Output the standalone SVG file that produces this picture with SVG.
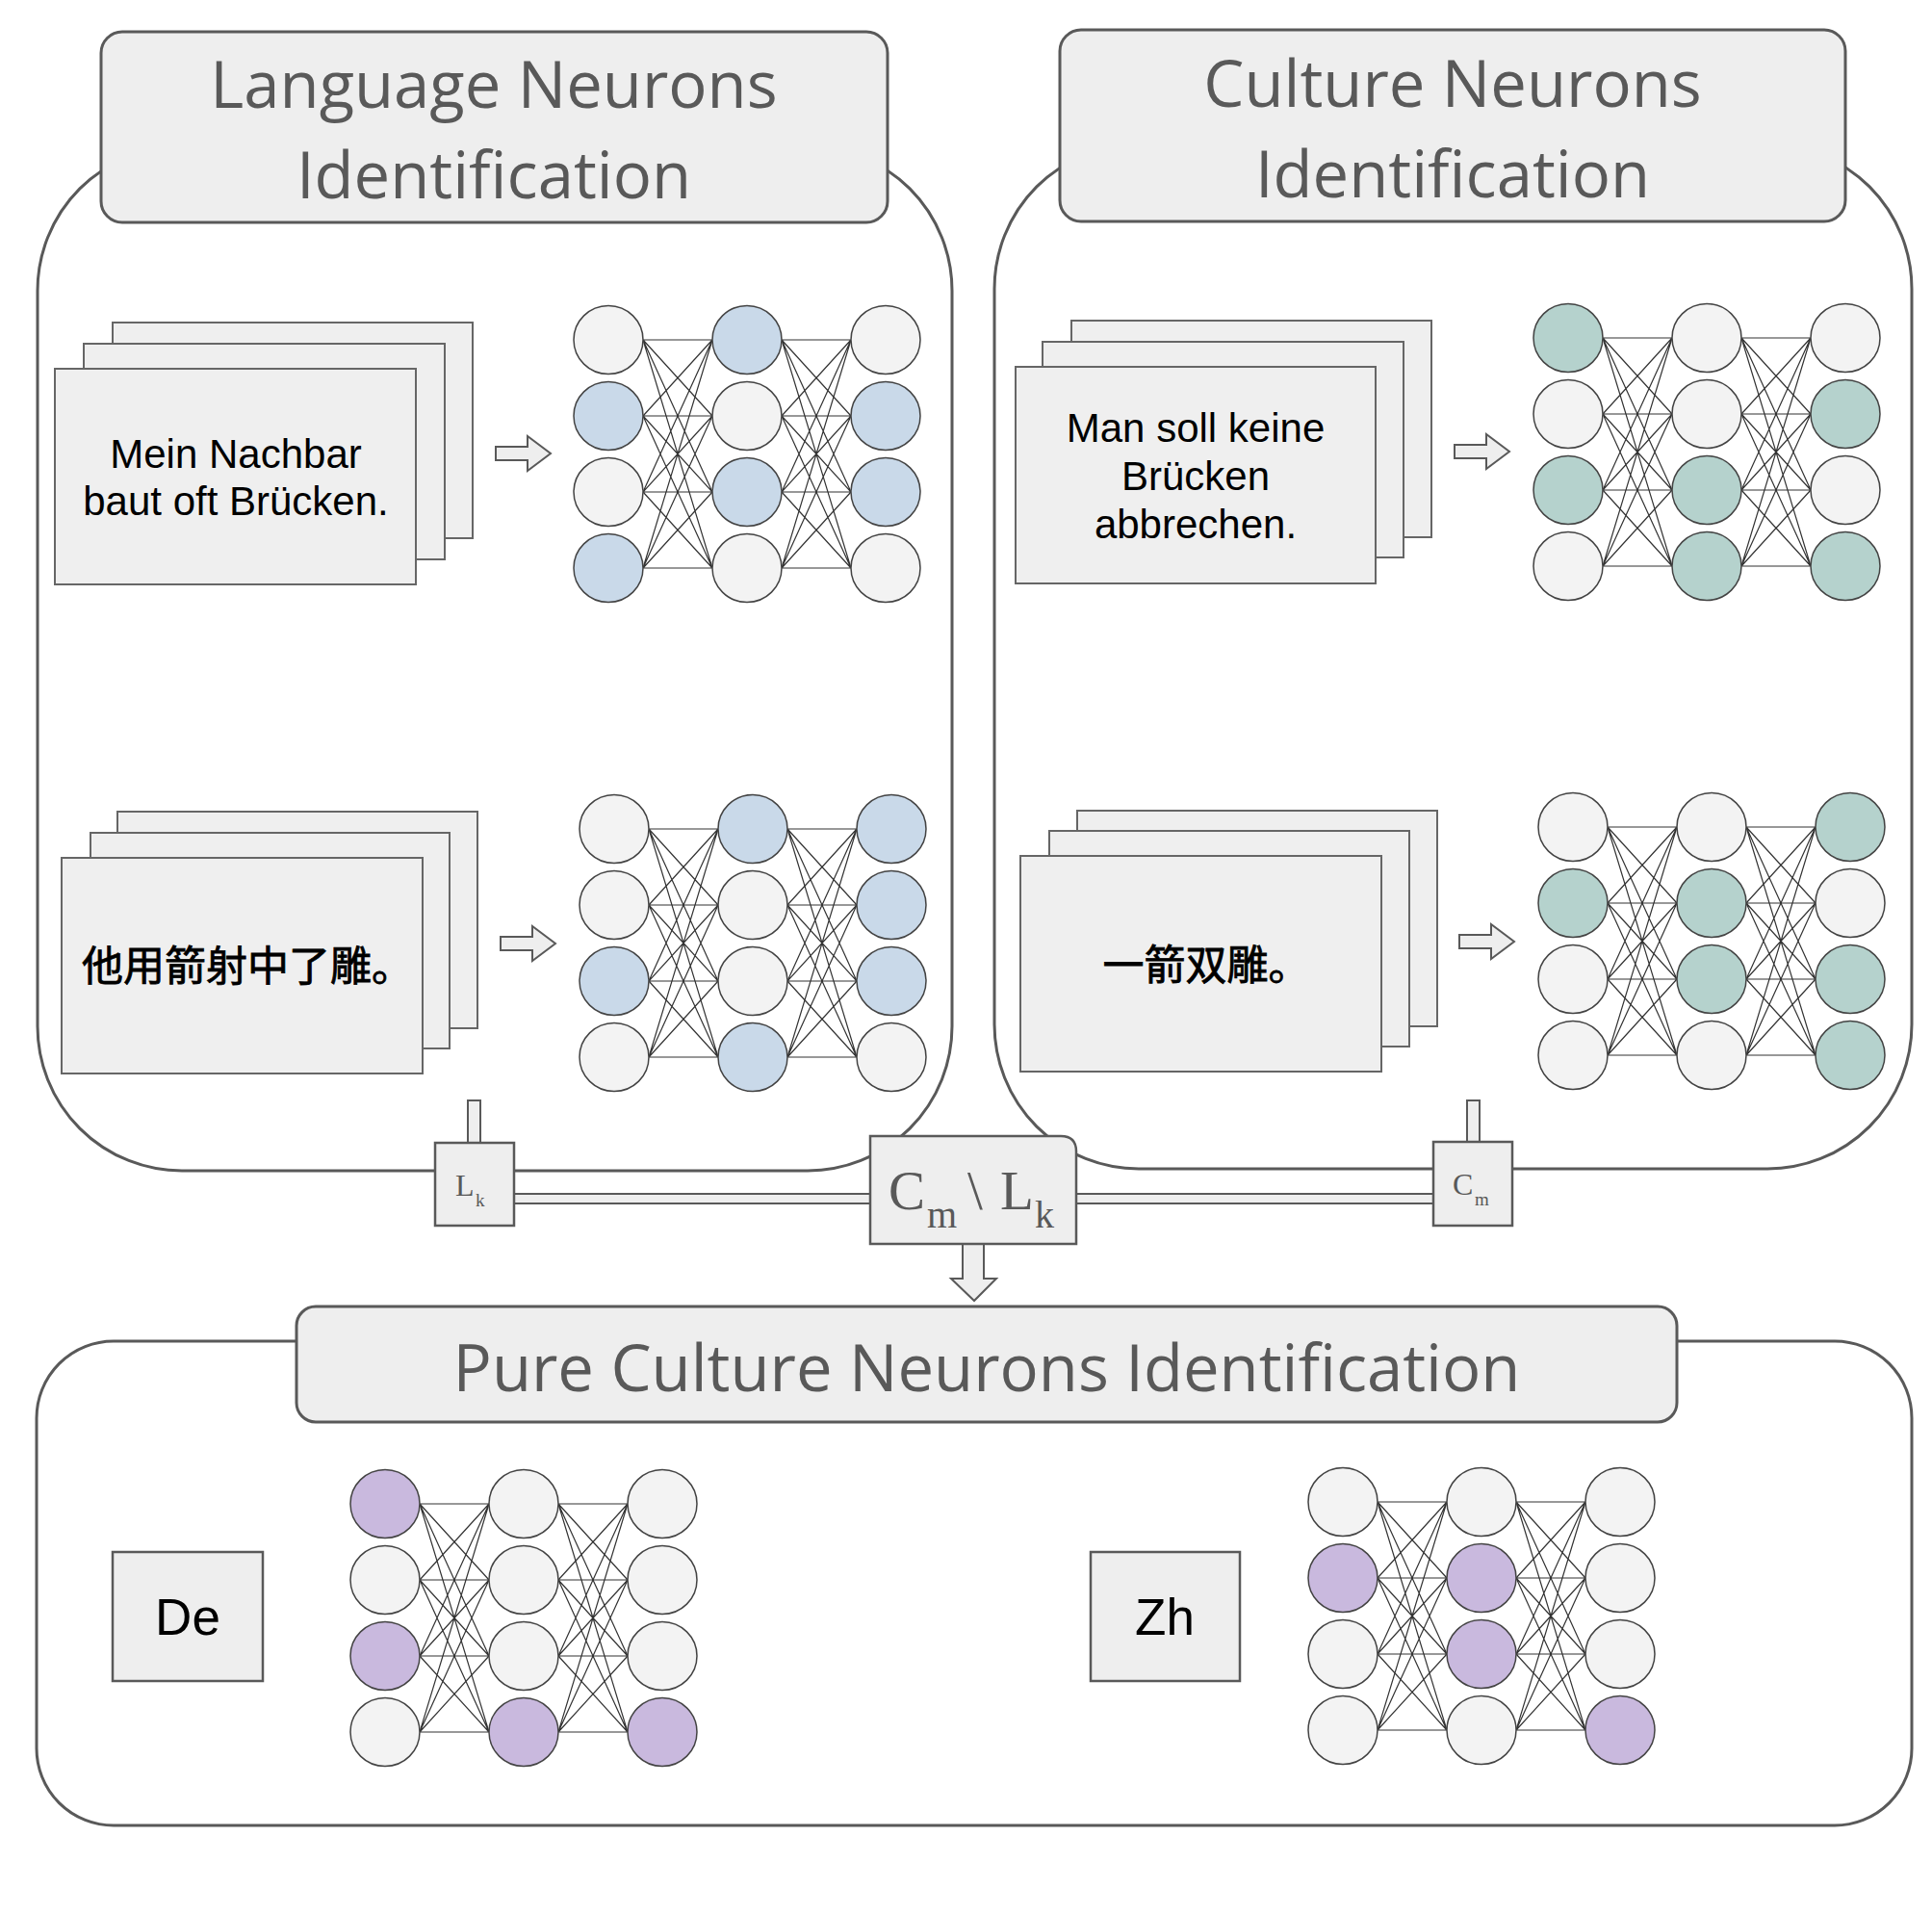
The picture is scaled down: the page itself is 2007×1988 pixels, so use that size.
<svg xmlns="http://www.w3.org/2000/svg" xmlns:xlink="http://www.w3.org/1999/xlink" width="2007" height="1988" viewBox="0 0 2007 1988">
<style>
.panel{fill:#ffffff;stroke:#595959;stroke-width:3}
.title{fill:#eeeeee;stroke:#595959;stroke-width:3}
.ttl{font-family:"Open Sans","Liberation Sans",sans-serif;font-size:67px;fill:#595959;text-anchor:middle}
.sheet{fill:#efefef;stroke:#666666;stroke-width:2}
.st{font-family:"Liberation Sans",Arial,sans-serif;font-size:42px;fill:#000000;text-anchor:middle}
.cjk{font-family:"Liberation Sans","Noto Sans CJK SC",sans-serif;font-size:43px;fill:#000000;stroke:#000000;stroke-width:0.8;text-anchor:middle}
.lang{font-family:"Liberation Sans",Arial,sans-serif;font-size:53px;fill:#000000;text-anchor:middle}
.box{fill:#eeeeee;stroke:#595959;stroke-width:2.5}
.serif{font-family:"Liberation Serif","Times New Roman",serif;fill:#595959}
.harrow{fill:#eeeeee;stroke:#595959;stroke-width:2}
.nl{fill:none;stroke:#333333;stroke-width:1.2}
.n{fill:#f3f3f3;stroke:#434343;stroke-width:1.5}
.b{fill:#c9d9e9;stroke:#434343;stroke-width:1.5}
.t{fill:#b5d2cd;stroke:#434343;stroke-width:1.5}
.p{fill:#c9b9de;stroke:#434343;stroke-width:1.5}
</style>
<defs>
<path id="netlines" class="nl" d="M36 0L108 0M36 0L108 79M36 0L108 158M36 0L108 237M36 79L108 0M36 79L108 79M36 79L108 158M36 79L108 237M36 158L108 0M36 158L108 79M36 158L108 158M36 158L108 237M36 237L108 0M36 237L108 79M36 237L108 158M36 237L108 237M180 0L252 0M180 0L252 79M180 0L252 158M180 0L252 237M180 79L252 0M180 79L252 79M180 79L252 158M180 79L252 237M180 158L252 0M180 158L252 79M180 158L252 158M180 158L252 237M180 237L252 0M180 237L252 79M180 237L252 158M180 237L252 237"/>
<path id="rarrow" class="harrow" d="M-57 -7H-24V-18L0 0L-24 18V7H-57Z"/>
</defs>

<!-- panels -->
<g id="panel-language">
<rect class="panel" x="39" y="152" width="950" height="1064" rx="150" ry="150"/>
<rect class="title" x="105" y="33" width="817" height="198" rx="22" ry="22"/>
<text class="ttl" x="513" y="112">Language Neurons</text>
<text class="ttl" x="513" y="206">Identification</text>
</g>
<g id="panel-culture">
<rect class="panel" x="1033" y="150" width="953" height="1064" rx="150" ry="150"/>
<rect class="title" x="1101" y="31" width="816" height="199" rx="22" ry="22"/>
<text class="ttl" x="1509" y="111">Culture Neurons</text>
<text class="ttl" x="1509" y="205">Identification</text>
</g>
<g id="panel-pure">
<rect class="panel" x="38" y="1393" width="1948" height="503" rx="80" ry="80"/>
<rect class="title" x="308" y="1357" width="1434" height="120" rx="20" ry="20"/>
<text class="ttl" x="1025" y="1445" font-size="67.5">Pure Culture Neurons Identification</text>
</g>

<!-- text stacks -->
<g id="stack-de-lang">
<rect class="sheet" x="117" y="335" width="374" height="224"/>
<rect class="sheet" x="87" y="357" width="375" height="224"/>
<rect class="sheet" x="57" y="383" width="375" height="224"/>
<text class="st" x="245" y="486">Mein Nachbar</text>
<text class="st" x="245" y="535">baut oft Brücken.</text>
</g>
<g id="stack-zh-lang">
<rect class="sheet" x="122" y="843" width="374" height="225"/>
<rect class="sheet" x="94" y="865" width="373" height="224"/>
<rect class="sheet" x="64" y="891" width="375" height="224"/>
<text class="cjk" x="257" y="1019">他用箭射中了雕。</text>
</g>
<g id="stack-de-cult">
<rect class="sheet" x="1113" y="333" width="374" height="225"/>
<rect class="sheet" x="1083" y="355" width="375" height="224"/>
<rect class="sheet" x="1055" y="381" width="374" height="225"/>
<text class="st" x="1242" y="459">Man soll keine</text>
<text class="st" x="1242" y="509">Brücken</text>
<text class="st" x="1242" y="559">abbrechen.</text>
</g>
<g id="stack-zh-cult">
<rect class="sheet" x="1119" y="842" width="374" height="224"/>
<rect class="sheet" x="1090" y="863" width="374" height="224"/>
<rect class="sheet" x="1060" y="889" width="375" height="224"/>
<text class="cjk" x="1253" y="1018">一箭双雕。</text>
</g>

<!-- networks -->
<g id="net-lang-de" transform="translate(632,353)">
<use href="#netlines"/>
<ellipse class="n" cx="0" cy="0" rx="36" ry="35.5"/><ellipse class="b" cx="144" cy="0" rx="36" ry="35.5"/><ellipse class="n" cx="288" cy="0" rx="36" ry="35.5"/>
<ellipse class="b" cx="0" cy="79" rx="36" ry="35.5"/><ellipse class="n" cx="144" cy="79" rx="36" ry="35.5"/><ellipse class="b" cx="288" cy="79" rx="36" ry="35.5"/>
<ellipse class="n" cx="0" cy="158" rx="36" ry="35.5"/><ellipse class="b" cx="144" cy="158" rx="36" ry="35.5"/><ellipse class="b" cx="288" cy="158" rx="36" ry="35.5"/>
<ellipse class="b" cx="0" cy="237" rx="36" ry="35.5"/><ellipse class="n" cx="144" cy="237" rx="36" ry="35.5"/><ellipse class="n" cx="288" cy="237" rx="36" ry="35.5"/>
</g>
<g id="net-lang-zh" transform="translate(638,861)">
<use href="#netlines"/>
<ellipse class="n" cx="0" cy="0" rx="36" ry="35.5"/><ellipse class="b" cx="144" cy="0" rx="36" ry="35.5"/><ellipse class="b" cx="288" cy="0" rx="36" ry="35.5"/>
<ellipse class="n" cx="0" cy="79" rx="36" ry="35.5"/><ellipse class="n" cx="144" cy="79" rx="36" ry="35.5"/><ellipse class="b" cx="288" cy="79" rx="36" ry="35.5"/>
<ellipse class="b" cx="0" cy="158" rx="36" ry="35.5"/><ellipse class="n" cx="144" cy="158" rx="36" ry="35.5"/><ellipse class="b" cx="288" cy="158" rx="36" ry="35.5"/>
<ellipse class="n" cx="0" cy="237" rx="36" ry="35.5"/><ellipse class="b" cx="144" cy="237" rx="36" ry="35.5"/><ellipse class="n" cx="288" cy="237" rx="36" ry="35.5"/>
</g>
<g id="net-cult-de" transform="translate(1629,351)">
<use href="#netlines"/>
<ellipse class="t" cx="0" cy="0" rx="36" ry="35.5"/><ellipse class="n" cx="144" cy="0" rx="36" ry="35.5"/><ellipse class="n" cx="288" cy="0" rx="36" ry="35.5"/>
<ellipse class="n" cx="0" cy="79" rx="36" ry="35.5"/><ellipse class="n" cx="144" cy="79" rx="36" ry="35.5"/><ellipse class="t" cx="288" cy="79" rx="36" ry="35.5"/>
<ellipse class="t" cx="0" cy="158" rx="36" ry="35.5"/><ellipse class="t" cx="144" cy="158" rx="36" ry="35.5"/><ellipse class="n" cx="288" cy="158" rx="36" ry="35.5"/>
<ellipse class="n" cx="0" cy="237" rx="36" ry="35.5"/><ellipse class="t" cx="144" cy="237" rx="36" ry="35.5"/><ellipse class="t" cx="288" cy="237" rx="36" ry="35.5"/>
</g>
<g id="net-cult-zh" transform="translate(1634,859)">
<use href="#netlines"/>
<ellipse class="n" cx="0" cy="0" rx="36" ry="35.5"/><ellipse class="n" cx="144" cy="0" rx="36" ry="35.5"/><ellipse class="t" cx="288" cy="0" rx="36" ry="35.5"/>
<ellipse class="t" cx="0" cy="79" rx="36" ry="35.5"/><ellipse class="t" cx="144" cy="79" rx="36" ry="35.5"/><ellipse class="n" cx="288" cy="79" rx="36" ry="35.5"/>
<ellipse class="n" cx="0" cy="158" rx="36" ry="35.5"/><ellipse class="t" cx="144" cy="158" rx="36" ry="35.5"/><ellipse class="t" cx="288" cy="158" rx="36" ry="35.5"/>
<ellipse class="n" cx="0" cy="237" rx="36" ry="35.5"/><ellipse class="n" cx="144" cy="237" rx="36" ry="35.5"/><ellipse class="t" cx="288" cy="237" rx="36" ry="35.5"/>
</g>
<g id="net-pure-de" transform="translate(400,1562)">
<use href="#netlines"/>
<ellipse class="p" cx="0" cy="0" rx="36" ry="35.5"/><ellipse class="n" cx="144" cy="0" rx="36" ry="35.5"/><ellipse class="n" cx="288" cy="0" rx="36" ry="35.5"/>
<ellipse class="n" cx="0" cy="79" rx="36" ry="35.5"/><ellipse class="n" cx="144" cy="79" rx="36" ry="35.5"/><ellipse class="n" cx="288" cy="79" rx="36" ry="35.5"/>
<ellipse class="p" cx="0" cy="158" rx="36" ry="35.5"/><ellipse class="n" cx="144" cy="158" rx="36" ry="35.5"/><ellipse class="n" cx="288" cy="158" rx="36" ry="35.5"/>
<ellipse class="n" cx="0" cy="237" rx="36" ry="35.5"/><ellipse class="p" cx="144" cy="237" rx="36" ry="35.5"/><ellipse class="p" cx="288" cy="237" rx="36" ry="35.5"/>
</g>
<g id="net-pure-zh" transform="translate(1395,1560)">
<use href="#netlines"/>
<ellipse class="n" cx="0" cy="0" rx="36" ry="35.5"/><ellipse class="n" cx="144" cy="0" rx="36" ry="35.5"/><ellipse class="n" cx="288" cy="0" rx="36" ry="35.5"/>
<ellipse class="p" cx="0" cy="79" rx="36" ry="35.5"/><ellipse class="p" cx="144" cy="79" rx="36" ry="35.5"/><ellipse class="n" cx="288" cy="79" rx="36" ry="35.5"/>
<ellipse class="n" cx="0" cy="158" rx="36" ry="35.5"/><ellipse class="p" cx="144" cy="158" rx="36" ry="35.5"/><ellipse class="n" cx="288" cy="158" rx="36" ry="35.5"/>
<ellipse class="n" cx="0" cy="237" rx="36" ry="35.5"/><ellipse class="n" cx="144" cy="237" rx="36" ry="35.5"/><ellipse class="p" cx="288" cy="237" rx="36" ry="35.5"/>
</g>

<!-- language labels -->
<g id="label-de">
<rect class="box" x="117" y="1612" width="156" height="134"/>
<text class="lang" x="195" y="1698">De</text>
</g>
<g id="label-zh">
<rect class="box" x="1133" y="1612" width="155" height="134"/>
<text class="lang" x="1210" y="1698">Zh</text>
</g>

<!-- connectors -->
<g id="connectors">
<use href="#rarrow" transform="translate(572,471)"/>
<use href="#rarrow" transform="translate(577,980)"/>
<use href="#rarrow" transform="translate(1568,469)"/>
<use href="#rarrow" transform="translate(1573,978)"/>
<rect class="harrow" x="486" y="1143" width="13" height="44"/>
<rect class="harrow" x="1524" y="1143" width="13" height="43"/>
<rect class="harrow" x="534" y="1240" width="370" height="10"/>
<rect class="harrow" x="1118" y="1240" width="371" height="10"/>
<path class="harrow" d="M1000 1292H1022V1328H1035L1012 1351L988 1328H1000Z"/>
</g>

<g id="set-lk">
<rect class="box" x="452" y="1187" width="82" height="86"/>
<text class="serif" font-size="32"><tspan x="473" y="1242">L</tspan><tspan x="494" y="1253" font-size="19">k</tspan></text>
</g>
<g id="set-cm">
<rect class="box" x="1489" y="1186" width="82" height="87"/>
<text class="serif" font-size="32"><tspan x="1509" y="1241">C</tspan><tspan x="1532" y="1252" font-size="19">m</tspan></text>
</g>
<g id="set-diff">
<path class="box" d="M904 1180H1102Q1118 1180 1118 1196V1292H904Z"/>
<text class="serif" font-size="57"><tspan x="923" y="1256">C</tspan><tspan x="963" y="1275" font-size="40">m</tspan><tspan x="1005" y="1256">\</tspan><tspan x="1039" y="1256">L</tspan><tspan x="1075" y="1275" font-size="40">k</tspan></text>
</g>
</svg>
